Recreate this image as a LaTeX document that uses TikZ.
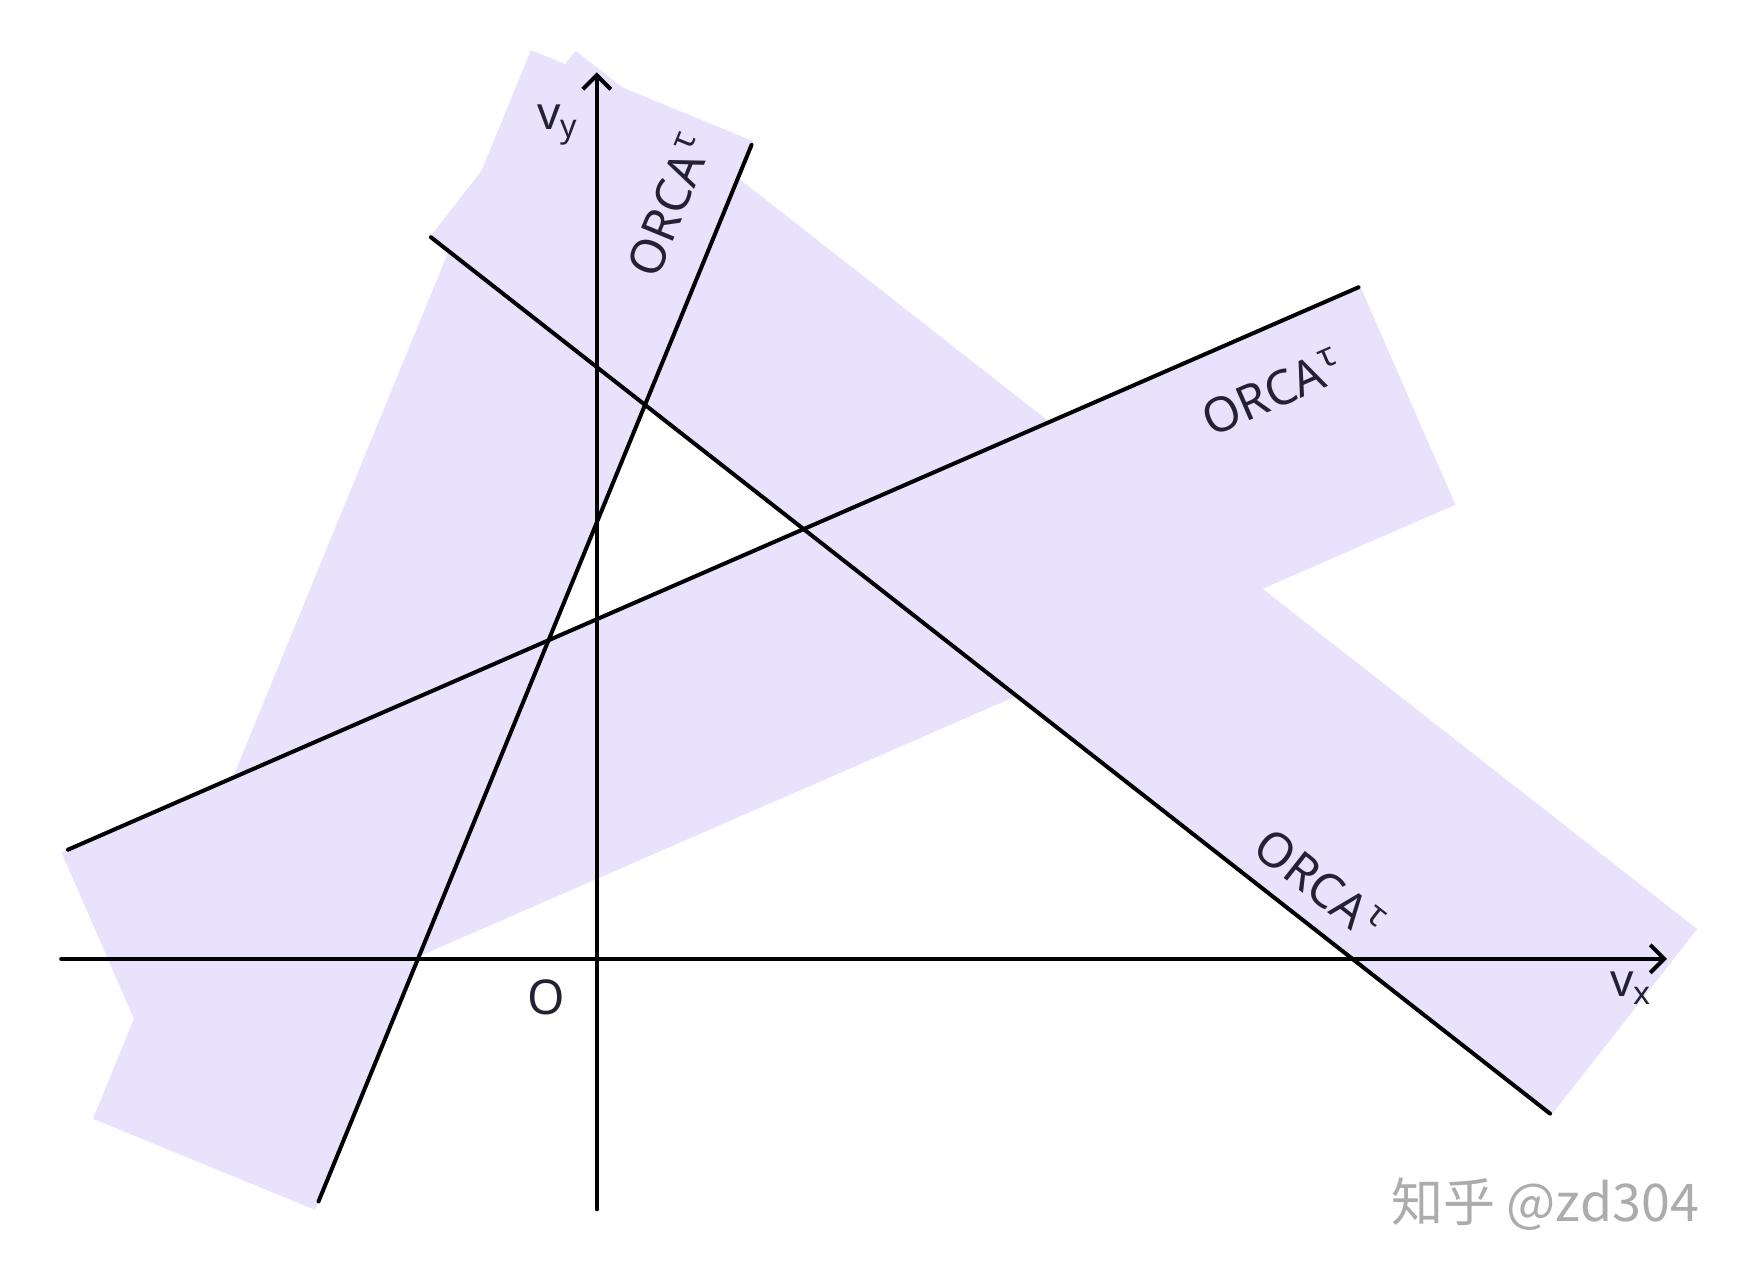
\documentclass[tikz,border=0pt]{standalone}
\usepackage{fontspec}
\setmainfont{Noto Sans}
\newfontfamily\cjkfont{Noto Sans CJK SC}
\usetikzlibrary{arrows.meta}
\definecolor{bandcol}{RGB}{232,226,253}
\definecolor{wmcol}{RGB}{172,172,172}
\definecolor{txtcol}{RGB}{36,34,50}
\newcommand{\orcatxt}{ORCA\kern1pt\textsuperscript{τ}}
\begin{document}
\begin{tikzpicture}[x=0.5pt,y=-0.5pt,
  bandfill/.style={fill=bandcol,draw=none},
  cline/.style={line width=2pt,line cap=round},
  axisline/.style={line width=2pt,line cap=round,-{Straight Barb[length=7pt,width=14pt,line width=2pt]}},
  orca/.style={font=\fontsize{24}{28}\selectfont,text=txtcol,inner sep=0pt},
  axlab/.style={font=\fontsize{23}{27}\selectfont,text=txtcol,inner sep=0pt},
  wmark/.style={font=\cjkfont\fontsize{26}{31}\selectfont,text=wmcol,inner sep=0pt}]
\useasboundingbox (0,0) rectangle (1746,1274);
\fill[white] (0,0) rectangle (1746,1274);
% bands
\fill[bandfill] (315.1,1209.8) -- (753.1,141.1) -- (531,50.1) -- (93,1118.8) -- cycle;
\fill[bandfill] (61.5,852.5) -- (1360.3,286.5) -- (1455.4,504.7) -- (156.6,1070.7) -- cycle;
\fill[bandfill] (430.1,236.6) -- (1551.6,1114.8) -- (1697.1,929) -- (575.6,50.8) -- cycle;
% coordinates
\coordinate (A1) at (318.5,1201.5);
\coordinate (A2) at (751.6,144.8);
\coordinate (B1) at (67.9,849.7);
\coordinate (B2) at (1358.5,287.3);
\coordinate (C1) at (430.9,237.2);
\coordinate (C2) at (1550,1113.6);
\coordinate (xs) at (61.2,958.8);
\coordinate (xe) at (1667,958.8);
\coordinate (ys) at (596.8,1209.3);
\coordinate (ye) at (596.8,72.4);
% lines
\draw[cline] (A1) -- (A2);
\draw[cline] (B1) -- (B2);
\draw[cline] (C1) -- (C2);
\draw[axisline] (xs) -- (xe);
\draw[axisline] (ys) -- (ye);
% labels
\node[orca,rotate=67.7] (la) at (669,205) {\orcatxt};
\node[orca,rotate=23.5] (lb) at (1272,392) {\orcatxt};
\node[orca,rotate=-38.1] (lc) at (1320,884) {\orcatxt};
\node[axlab] (vy) at (558,125) {v\textsubscript{y}};
\node[axlab] (vx) at (1631,988) {v\textsubscript{x}};
\node[axlab,font=\fontsize{24}{28}\selectfont] (o) at (546,997) {O};
\node[wmark] (wm) at (1545,1204) {知乎 @zd304};
\end{tikzpicture}
\end{document}
